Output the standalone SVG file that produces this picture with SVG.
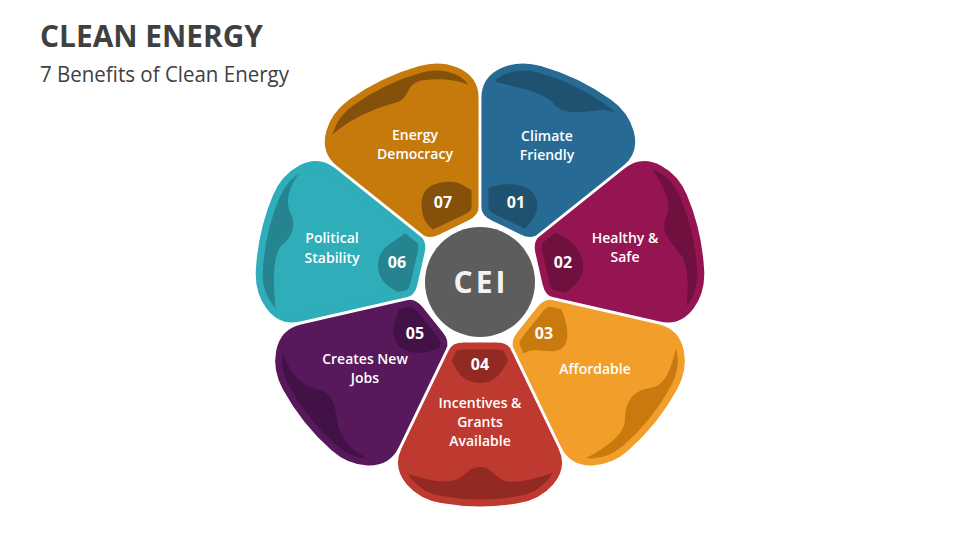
<svg xmlns="http://www.w3.org/2000/svg" width="960" height="540" viewBox="0 0 960 540">
<style>
.rim{fill:none;stroke-width:7;stroke-linejoin:round}
.num{font-family:"Open Sans","DejaVu Sans",sans-serif;font-weight:bold;font-size:16px;fill:#FFFFFF;text-anchor:middle}
.lbl{font-family:"Open Sans","DejaVu Sans",sans-serif;font-weight:600;font-size:14px;fill:#FFFFFF;text-anchor:middle}
</style>
<defs>
<path id="petal" d="M16,64 Q26,64 28.2,70 L75.4,168 C87,192 63,213.3 38.4,217.6 A221,221 0 0 1 -38.4,217.6 C-63,213.3 -87,192 -75.4,168 L-28.2,70 Q-26,64 -16,64 Z"/>
<clipPath id="c01"><use href="#petal" transform="translate(480 282) rotate(-154.29)"/></clipPath>
<clipPath id="c02"><use href="#petal" transform="translate(480 282) rotate(-102.86)"/></clipPath>
<clipPath id="c03"><use href="#petal" transform="translate(480 282) rotate(-51.43)"/></clipPath>
<clipPath id="c04"><use href="#petal" transform="translate(480 282)"/></clipPath>
<clipPath id="c05"><use href="#petal" transform="translate(480 282) rotate(51.43)"/></clipPath>
<clipPath id="c06"><use href="#petal" transform="translate(480 282) rotate(102.86)"/></clipPath>
<clipPath id="c07"><use href="#petal" transform="translate(480 282) rotate(154.29)"/></clipPath>
</defs>
<rect width="960" height="540" fill="#FFFFFF"/>

<g id="title">
<text x="40" y="46.5" font-family="'Open Sans','DejaVu Sans',sans-serif" font-weight="bold" font-size="30" fill="#404040" textLength="223" lengthAdjust="spacingAndGlyphs">CLEAN ENERGY</text>
<text x="40" y="81.5" font-family="'Open Sans','DejaVu Sans',sans-serif" font-size="22" fill="#404040" textLength="249" lengthAdjust="spacingAndGlyphs">7 Benefits of Clean Energy</text>
</g>

<g id="node-01">
<use href="#petal" transform="translate(480 282) rotate(-154.29)" fill="#276B94"/>
<g clip-path="url(#c01)" fill="#1F5170">
<path d="M496,82 C520,88 545,92 555,105 C565,117 590,110 605,110 C620,112 628,122 636,138 L660,138 L660,40 L496,40 Z"/>
<path d="M480,190 C495,185 515,180 530,190 C542,200 538,218 525,228 C520,232 518,240 515,245 L480,245 Z"/>
</g>
<use href="#petal" transform="translate(480 282) rotate(-154.29)" class="rim" stroke="#276B94"/>
<text class="num" x="516" y="207.5">01</text>
<text class="lbl" x="547" y="141">Climate</text>
<text class="lbl" x="547" y="160">Friendly</text>
</g>

<g id="node-02">
<use href="#petal" transform="translate(480 282) rotate(-102.86)" fill="#951552"/>
<g clip-path="url(#c02)" fill="#70103E">
<path d="M645,160 C660,180 675,200 665,220 C660,235 675,245 683,258 C690,275 688,295 685,315 L740,315 L740,160 Z"/>
<path d="M540,228 C560,232 585,245 583,268 C582,285 565,290 560,300 L530,300 L530,228 Z"/>
</g>
<use href="#petal" transform="translate(480 282) rotate(-102.86)" class="rim" stroke="#951552"/>
<text class="num" x="563" y="267.5">02</text>
<text class="lbl" x="625" y="243">Healthy &amp;</text>
<text class="lbl" x="625" y="262">Safe</text>
</g>

<g id="node-03">
<use href="#petal" transform="translate(480 282) rotate(-51.43)" fill="#F19E2B"/>
<g clip-path="url(#c03)" fill="#C97A0F">
<path d="M680,335 C672,360 670,385 650,388 C630,391 625,405 625,420 C624,438 600,450 580,462 L600,510 L730,430 L730,335 Z"/>
<path d="M555,295 C562,310 572,330 565,345 C558,355 545,350 535,350 C528,350 522,355 515,358 L505,340 L505,290 Z"/>
</g>
<use href="#petal" transform="translate(480 282) rotate(-51.43)" class="rim" stroke="#F19E2B"/>
<text class="num" x="544" y="338.5">03</text>
<text class="lbl" x="595" y="374">Affordable</text>
</g>

<g id="node-04">
<use href="#petal" transform="translate(480 282)" fill="#BE3A30"/>
<g clip-path="url(#c04)" fill="#922A23">
<path d="M395,470 C420,478 440,484 455,480 C465,477 468,467 480,467 C492,467 495,478 505,481 C520,484 540,478 565,468 L565,530 L395,530 Z"/>
<path d="M440,330 C450,350 452,383 480,383 C506,383 510,350 522,330 Z"/>
</g>
<use href="#petal" transform="translate(480 282)" class="rim" stroke="#BE3A30"/>
<text class="num" x="480" y="369.5">04</text>
<text class="lbl" x="480" y="408">Incentives &amp;</text>
<text class="lbl" x="480" y="427">Grants</text>
<text class="lbl" x="480" y="446">Available</text>
</g>

<g id="node-05">
<use href="#petal" transform="translate(480 282) rotate(51.43)" fill="#58185C"/>
<g clip-path="url(#c05)" fill="#421146">
<path d="M280,340 C285,365 295,385 320,390 C335,395 335,410 338,425 C342,445 360,455 380,465 L330,490 L240,420 L240,340 Z"/>
<path d="M405,300 C395,315 385,340 405,350 C418,356 432,352 445,345 L445,300 Z"/>
</g>
<use href="#petal" transform="translate(480 282) rotate(51.43)" class="rim" stroke="#58185C"/>
<text class="num" x="415" y="338.5">05</text>
<text class="lbl" x="365" y="364">Creates New</text>
<text class="lbl" x="365" y="383">Jobs</text>
</g>

<g id="node-06">
<use href="#petal" transform="translate(480 282) rotate(102.86)" fill="#2FADB9"/>
<g clip-path="url(#c06)" fill="#268390">
<path d="M310,162 C295,175 283,195 290,212 C297,225 292,237 282,245 C272,255 273,285 276,312 L230,312 L230,162 Z"/>
<path d="M412,228 C400,240 378,245 378,265 C378,285 395,290 410,298 L430,298 L430,228 Z"/>
</g>
<use href="#petal" transform="translate(480 282) rotate(102.86)" class="rim" stroke="#2FADB9"/>
<text class="num" x="397" y="267.5">06</text>
<text class="lbl" x="332" y="243">Political</text>
<text class="lbl" x="332" y="263">Stability</text>
</g>

<g id="node-07">
<use href="#petal" transform="translate(480 282) rotate(154.29)" fill="#C77A0C"/>
<g clip-path="url(#c07)" fill="#84500A">
<path d="M325,142 C345,120 375,108 398,102 C410,98 405,82 425,80 C445,78 460,80 475,88 L475,40 L325,40 Z"/>
<path d="M480,195 C468,190 462,180 445,182 C425,184 420,195 422,210 C423,222 430,228 440,235 L480,240 Z"/>
</g>
<use href="#petal" transform="translate(480 282) rotate(154.29)" class="rim" stroke="#C77A0C"/>
<text class="num" x="443" y="207.5">07</text>
<text class="lbl" x="415" y="140">Energy</text>
<text class="lbl" x="415" y="159">Democracy</text>
</g>

<g id="node-center">
<circle cx="480" cy="282" r="55" fill="#5D5D5D"/>
<text x="481" y="293" font-family="'Open Sans','DejaVu Sans',sans-serif" font-weight="bold" font-size="30" letter-spacing="3" fill="#F2F2F2" text-anchor="middle">CEI</text>
</g>
</svg>
